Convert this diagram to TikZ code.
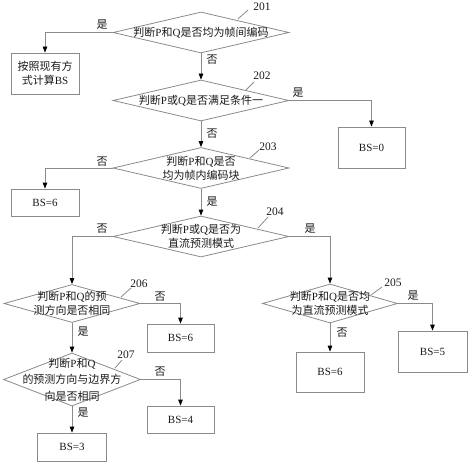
\documentclass[tikz,border=0pt]{standalone}
\usepackage{fontspec}
\setmainfont{Liberation Serif}
\newfontfamily\cjk{Noto Sans CJK SC}
\usetikzlibrary{shapes.geometric,arrows.meta}
\newcommand\zh[1]{{\cjk #1}}
\definecolor{lc}{HTML}{8A8A8A}
\definecolor{tc}{HTML}{1A1A1A}
\begin{document}
\begin{tikzpicture}[x=1pt,y=-1pt,
  ln/.style={draw=lc, line width=0.8pt},
  arr/.style={ln, -{Triangle[length=6pt,width=4.5pt,color=black]}},
  dia/.style={ln, shape=diamond, inner sep=0pt},
  box/.style={ln, rectangle, inner sep=0pt, align=center, text=tc, font=\fontsize{11}{14}\selectfont},
  txt/.style={align=center, text=tc, font=\fontsize{11}{14}\selectfont, inner sep=0pt},
  num/.style={text=tc, font=\fontsize{11.5}{12}\selectfont, inner sep=0pt},
  yn/.style={text=tc, font=\fontsize{11}{12}\selectfont\cjk, inner sep=0pt}]
\useasboundingbox (0,0) rectangle (474,468);

% diamonds
\node[dia, minimum width=176pt, minimum height=41pt] (d201) at (201,32.5) {};
\node[txt] (t201) at (d201) {\zh{判断}P\zh{和}Q\zh{是否均为帧间编码}};
\node[dia, minimum width=176pt, minimum height=41pt] (d202) at (201,100.5) {};
\node[txt] (t202) at (d202) {\zh{判断}P\zh{或}Q\zh{是否满足条件一}};
\node[dia, minimum width=176pt, minimum height=41pt] (d203) at (201,168) {};
\node[txt] (t203) at (d203) {\zh{判断}P\zh{和}Q\zh{是否}\\\zh{均为帧内编码块}};
\node[dia, minimum width=176pt, minimum height=41pt] (d204) at (201,236.5) {};
\node[txt] (t204) at (d204) {\zh{判断}P\zh{或}Q\zh{是否为}\\\zh{直流预测模式}};
\node[dia, minimum width=136pt, minimum height=38pt] (d206) at (72,303.5) {};
\node[txt] (t206) at (d206) {\zh{判断}P\zh{和}Q\zh{的预}\\\zh{测方向是否相同}};
\node[dia, minimum width=137pt, minimum height=53pt] (d207) at (72,379.5) {};
\node[txt, font=\fontsize{11}{16.5}\selectfont] (t207) at (d207) {\zh{判断}P\zh{和}Q\\\zh{的预测方向与边界方}\\\zh{向是否相同}};
\node[dia, minimum width=135pt, minimum height=39pt] (d205) at (330,303.5) {};
\node[txt] (t205) at (d205) {\zh{判断}P\zh{和}Q\zh{是否均}\\\zh{为直流预测模式}};

% boxes
\node[box, minimum width=68pt, minimum height=41pt] (b0) at (45,73.5) {\zh{按照现有方}\\\zh{式计算}BS};
\node[box, minimum width=67pt, minimum height=41pt] (bs0) at (371.5,147.5) {BS=0};
\node[box, minimum width=68pt, minimum height=27pt] (bs6a) at (45,202.5) {BS=6};
\node[box, minimum width=67pt, minimum height=28pt] (bs6b) at (180.5,338) {BS=6};
\node[box, minimum width=67pt, minimum height=27pt] (bs4) at (180.5,419.5) {BS=4};
\node[box, minimum width=69pt, minimum height=28pt] (bs3) at (72,447) {BS=3};
\node[box, minimum width=69pt, minimum height=41pt] (bs5) at (432.5,351.5) {BS=5};
\node[box, minimum width=68pt, minimum height=40pt] (bs6c) at (330,372) {BS=6};

% connectors
\draw[arr] (d201.west) -| (b0.north);
\draw[arr] (d201.south) -- (d202.north);
\draw[arr] (d202.east) -| (bs0.north);
\draw[arr] (d202.south) -- (d203.north);
\draw[arr] (d203.west) -| (bs6a.north);
\draw[arr] (d203.south) -- (d204.north);
\draw[arr] (d204.west) -| (d206.north);
\draw[arr] (d204.east) -| (d205.north);
\draw[arr] (d206.east) -| (bs6b.north);
\draw[arr] (d206.south) -- (d207.north);
\draw[arr] (d207.east) -| (bs4.north);
\draw[arr] (d207.south) -- (bs3.north);
\draw[arr] (d205.east) -| (bs5.north);
\draw[arr] (d205.south) -- (bs6c.north);

% yes / no labels
\node[yn] (y1) at (102,25) {是};
\node[yn] (n1) at (212,60) {否};
\node[yn] (y2) at (298,93) {是};
\node[yn] (n2) at (212,134) {否};
\node[yn] (n3) at (102,162) {否};
\node[yn] (y3) at (212,202) {是};
\node[yn] (n4) at (102,229) {否};
\node[yn] (y4) at (310,229) {是};
\node[yn] (n6) at (160,297) {否};
\node[yn] (y5) at (413,296) {是};
\node[yn] (y6) at (83,332) {是};
\node[yn] (n7) at (160,372) {否};
\node[yn] (y7) at (83,413) {是};
\node[yn] (n5) at (342,333) {否};

% reference numbers with leader lines
\node[num] (n201) at (262,7) {201};
\coordinate (a201) at (238,19); \coordinate (b201) at (248,10);
\draw[ln] (a201) -- (b201);
\node[num] (n202) at (262,76) {202};
\coordinate (a202) at (246,90); \coordinate (b202) at (254,82);
\draw[ln] (a202) -- (b202);
\node[num] (n203) at (268,147) {203};
\coordinate (a203) at (250,158); \coordinate (b203) at (259,150);
\draw[ln] (a203) -- (b203);
\node[num] (n204) at (275,212) {204};
\coordinate (a204) at (258,228); \coordinate (b204) at (268,217);
\draw[ln] (a204) -- (b204);
\node[num] (n206) at (139,284) {206};
\coordinate (a206) at (121,297); \coordinate (b206) at (131,288);
\draw[ln] (a206) -- (b206);
\node[num] (n207) at (126,355) {207};
\coordinate (a207) at (115,368); \coordinate (b207) at (122,360);
\draw[ln] (a207) -- (b207);
\node[num] (n205) at (393,283) {205};
\coordinate (a205) at (371,295); \coordinate (b205) at (382,287);
\draw[ln] (a205) -- (b205);
\end{tikzpicture}
\end{document}
